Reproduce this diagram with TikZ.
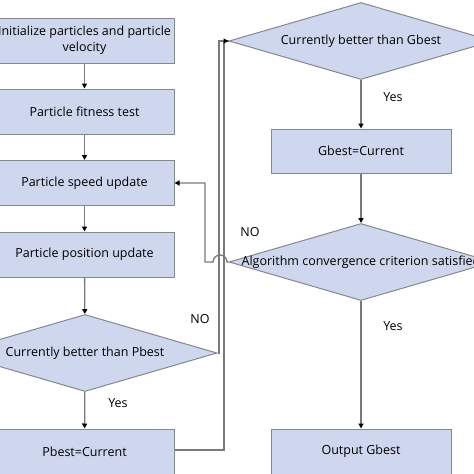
\documentclass[tikz,border=0pt]{standalone}
\usepackage{fontspec}
\setmainfont{Open Sans}
\usetikzlibrary{shapes.geometric,arrows.meta}
\definecolor{boxfill}{HTML}{CFD7EF}
\definecolor{boxline}{HTML}{858791}
\definecolor{conline}{HTML}{7A7A7A}
\tikzset{
  box/.style={draw=boxline, line width=1pt, fill=boxfill, minimum width=179pt, minimum height=45pt, inner sep=0pt, align=center, font=\fontsize{12.5}{15.5}\selectfont},
  dia/.style={draw=boxline, line width=1pt, fill=boxfill, diamond, minimum width=264pt, minimum height=77pt, inner sep=0pt, font=\fontsize{12.5}{15}\selectfont},
  con/.style={draw=conline, line width=1.3pt},
  arr/.style={con, -{Triangle[length=5pt,width=5pt,color=black]}},
  lbl/.style={font=\fontsize{12.5}{15}\selectfont, inner sep=0pt}
}
\begin{document}
\begin{tikzpicture}[x=1pt,y=1pt]
\useasboundingbox (0,0) rectangle (474,-474);
\clip (0,0) rectangle (474,-474);
\fill[white] (0,0) rectangle (474,-474);
% left column
\node[box] (b1) at (84.5,-40.5) {Initialize particles and particle\\velocity};
\node[box] (b2) at (84.5,-111.5) {Particle fitness test};
\node[box] (b3) at (84.5,-183) {Particle speed update};
\node[box] (b4) at (84.5,-254.5) {Particle position update};
\node[dia] (d1) at (85,-353) {\makebox[0pt]{Currently better than Pbest}};
\node[box] (b5) at (84.5,-451.5) {Pbest=Current};
% right column
\node[dia] (d2) at (361,-41) {\makebox[0pt]{Currently better than Gbest}};
\node[box, minimum width=180pt, minimum height=44pt] (b6) at (361,-151) {Gbest=Current};
\node[dia] (d3) at (361,-262) {\makebox[0pt]{Algorithm convergence criterion satisfied}};
\node[box, minimum width=180pt] (b7) at (361,-451.5) {Output Gbest};
% coordinates for routing
\coordinate (n1) at (219,-353);
\coordinate (n2) at (224,-450);
\coordinate (h1) at (227,-262);
\coordinate (h2) at (205,-262);
% connectors
\draw[arr] (b1) -- (b2);
\draw[arr] (b2) -- (b3);
\draw[arr] (b3) -- (b4);
\draw[arr] (b4) -- (d1);
\draw[arr] (d1) -- (b5);
\draw[arr] (d2) -- (b6);
\draw[arr] (b6) -- (d3);
\draw[arr] (d3) -- (b7);
\draw[con] (d1.east) -- (n1) |- (d2.west);
\draw[arr] (b5.east |- n2) -- (n2) |- (d2.west);
\draw[arr] (d3.west) -- (h1) arc (0:180:7) -- (h2) |- (b3.east);
% labels
\node[lbl] (no1) at (200,-319) {NO};
\node[lbl] (no2) at (250,-232) {NO};
\node[lbl] (y1) at (118,-403) {Yes};
\node[lbl] (y2) at (393,-97) {Yes};
\node[lbl] (y3) at (393,-326) {Yes};
\end{tikzpicture}
\end{document}
